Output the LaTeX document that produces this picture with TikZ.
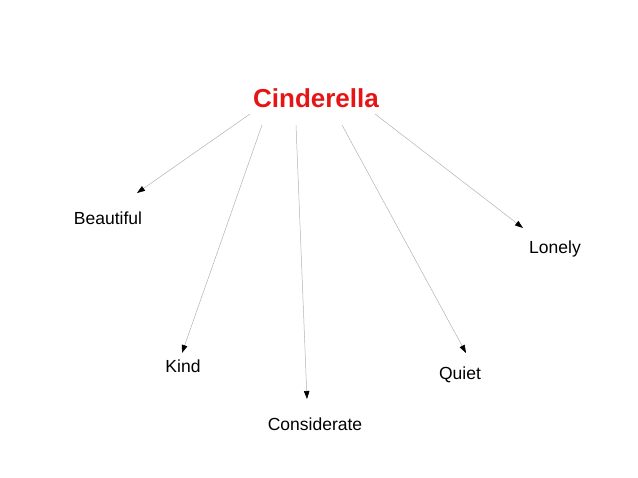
\documentclass[tikz,border=0pt]{standalone}
\usepackage{fontspec}
\setmainfont{Liberation Sans}
\usetikzlibrary{arrows.meta}
\begin{document}
\begin{tikzpicture}[x=1pt,y=-1pt,
  lbl/.style={font=\fontsize{17.5pt}{20pt}\selectfont},
  conn/.style={draw=gray!60,line width=0.5pt,-{Triangle[color=black,length=8pt,width=5.5pt]}}]
\useasboundingbox (0,0) rectangle (638,478);
\node[font=\bfseries\fontsize{26pt}{30pt}\selectfont,text={rgb,255:red,230;green,20;blue,20}] (cin) at (316,98) {Cinderella};
\node[lbl] (beau) at (108,218) {Beautiful};
\node[lbl] (kind) at (183,366) {Kind};
\node[lbl] (cons) at (315,424) {Considerate};
\node[lbl] (quiet) at (460,375) {Quiet};
\node[lbl] (lone) at (555,249) {Lonely};
\coordinate (s1) at (250,114); \coordinate (e1) at (137,193);
\coordinate (s2) at (262,125); \coordinate (e2) at (182,353);
\coordinate (s3) at (296,125); \coordinate (e3) at (307,399);
\coordinate (s4) at (342,125); \coordinate (e4) at (466,353);
\coordinate (s5) at (375,114); \coordinate (e5) at (523,228);
\draw[conn] (s1) -- (e1);
\draw[conn] (s2) -- (e2);
\draw[conn] (s3) -- (e3);
\draw[conn] (s4) -- (e4);
\draw[conn] (s5) -- (e5);
\end{tikzpicture}
\end{document}
